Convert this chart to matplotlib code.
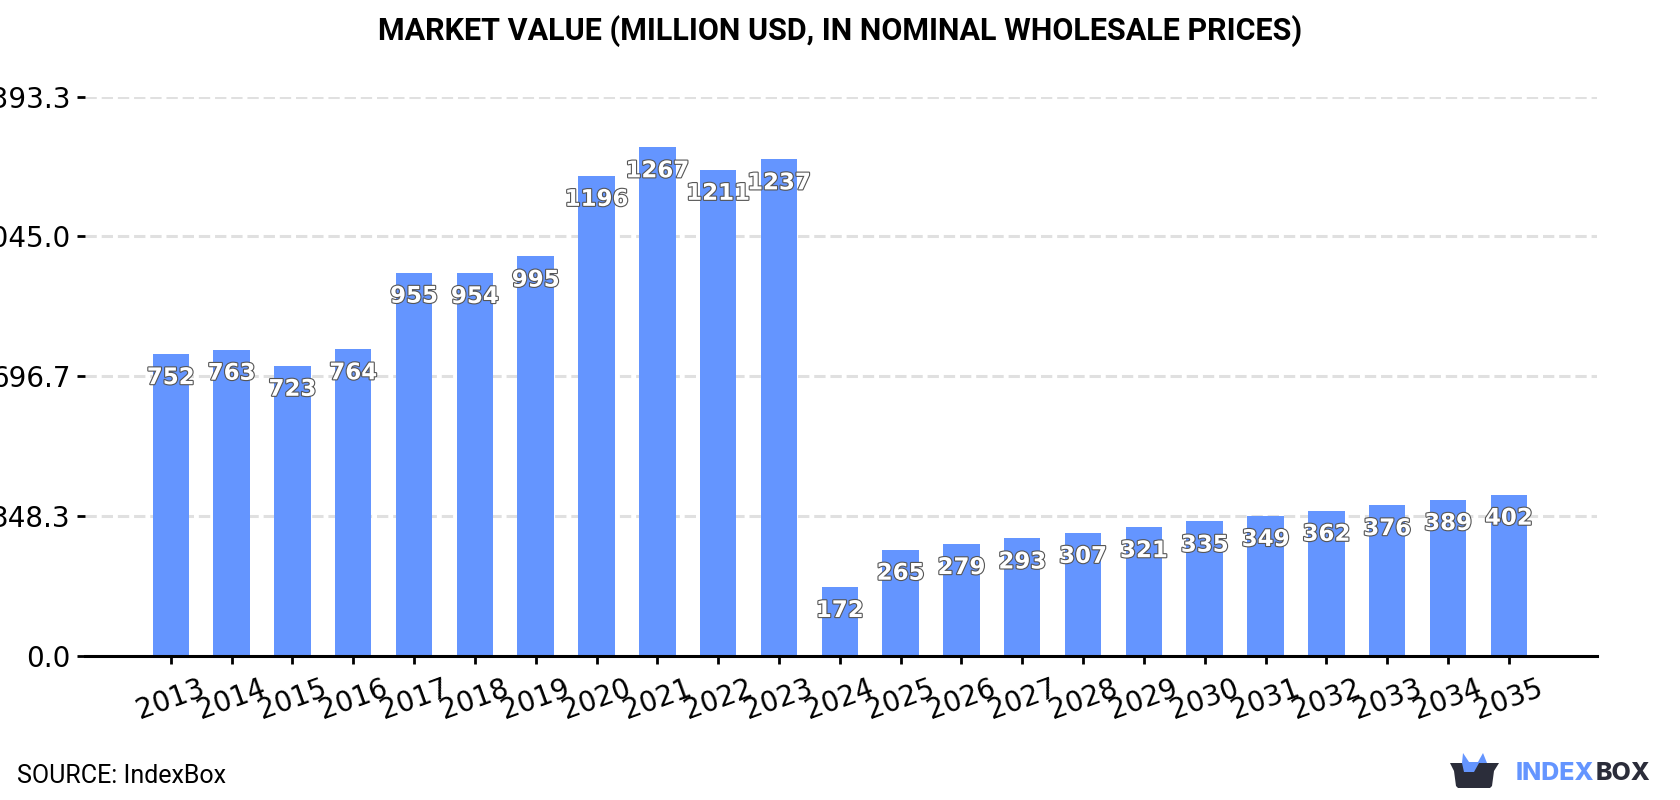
import matplotlib
matplotlib.use('Agg')
import matplotlib.pyplot as plt
import matplotlib.patheffects as pe
from matplotlib.patches import Polygon

years = list(range(2013, 2036))
values = [752, 763, 723, 764, 955, 954, 995, 1196, 1267, 1211, 1237, 172,
          265, 279, 293, 307, 321, 335, 349, 362, 376, 389, 402]
yticks = [0.0, 348.3, 696.7, 1045.0, 1393.3]

BLUE = '#6495ff'
DARK = '#2b2d3a'

W, H = 1680, 800
fig = plt.figure(figsize=(W / 100, H / 100), dpi=100)
ax = fig.add_axes([85 / W, 1 - 656 / H, (1597 - 85) / W, (656 - 96.5) / H])

ax.bar(years, values, width=0.6, color=BLUE, zorder=2)
ax.set_xlim(2011.59, 2036.45)
ax.set_ylim(0, 1393.3)

ax.set_yticks(yticks)
ax.set_yticklabels(['%.1f' % v for v in yticks], fontsize=20)
ax.set_xticks(years)
ax.set_xticklabels(years, fontsize=20, rotation=20)
ax.tick_params(axis='both', width=2, length=6, color='black', pad=4.5)
ax.tick_params(axis='x', pad=7)
ax.yaxis.grid(True, color='#e0e0e0', linestyle='--', linewidth=2.2, zorder=1)
ax.set_axisbelow(True)

for s in ['top', 'right', 'left']:
    ax.spines[s].set_visible(False)
ax.spines['bottom'].set_linewidth(2.2)

# value labels sit just under the top of each bar
for yr, v in zip(years, values):
    ax.annotate(str(v), (yr, v), xytext=(0, -17), textcoords='offset points',
                ha='center', va='center', fontsize=16.5, fontweight='bold',
                color='white', zorder=5,
                path_effects=[pe.withStroke(linewidth=1.6, foreground='#555555')])

fig.text(0.5, 1 - 31 / H, 'MARKET VALUE (MILLION USD, IN NOMINAL WHOLESALE PRICES)',
         ha='center', va='center', fontsize=22, fontweight='bold', family='Roboto')
fig.text(17 / W, 1 - 776 / H, 'SOURCE: IndexBox', ha='left', va='center',
         fontsize=18, family='Roboto')

# logo drawn in pixel coordinates
logo = fig.add_axes([0, 0, 1, 1], facecolor='none')
logo.set_xlim(0, W)
logo.set_ylim(H, 0)
logo.axis('off')
logo.add_patch(Polygon([(1450, 763), (1499, 763), (1494, 771), (1492, 786), (1490, 788),
                        (1458, 788), (1456, 786), (1454, 771)], color=DARK, lw=0, zorder=1))
logo.add_patch(Polygon([(1463, 753), (1469, 762), (1478, 762), (1483, 753), (1487, 763),
                        (1479, 763), (1474, 772), (1464, 772), (1462, 763)],
                       color=BLUE, lw=0, zorder=2))
fig.text(1516 / W, 1 - 774 / H, 'INDEX', color=BLUE, fontsize=18, fontweight='heavy',
         family='Inter', ha='left', va='center')
fig.text(1596 / W, 1 - 774 / H, 'BOX', color=DARK, fontsize=18, fontweight='heavy',
         family='Inter', ha='left', va='center')

fig.savefig('out.png', dpi=100)
